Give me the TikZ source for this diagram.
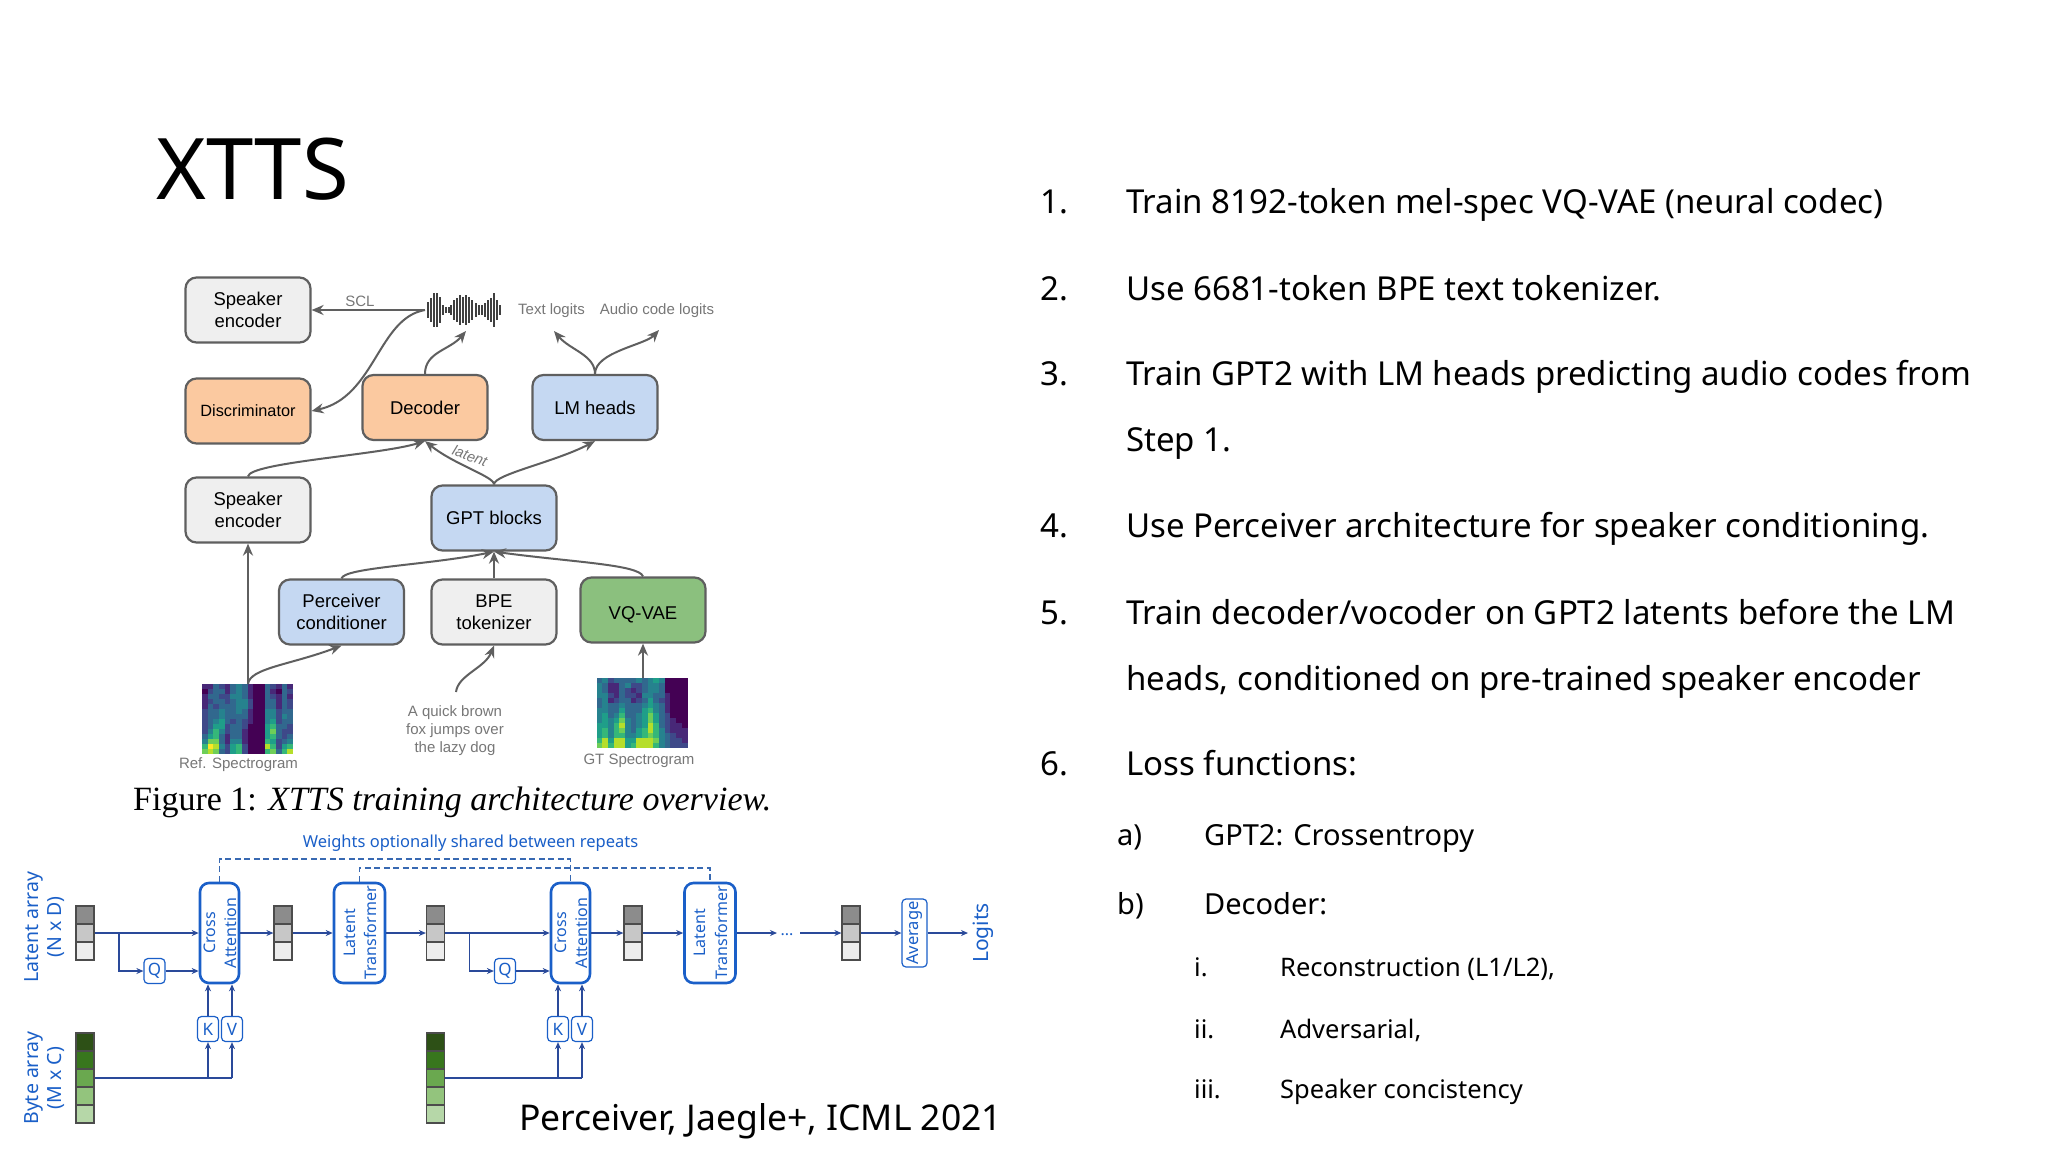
\documentclass[tikz,border=0pt]{standalone}
\usepackage{fontspec}
\setmainfont{Noto Sans}
\newfontfamily\arfont{Liberation Sans}
\newfontfamily\tifont{Liberation Serif}
\usetikzlibrary{arrows.meta,calc}
\definecolor{v0}{HTML}{440154}\definecolor{v1}{HTML}{482878}\definecolor{v2}{HTML}{3E4989}
\definecolor{v3}{HTML}{31688E}\definecolor{v4}{HTML}{26828E}\definecolor{v5}{HTML}{1F9E89}
\definecolor{v6}{HTML}{35B779}\definecolor{v7}{HTML}{6ECE58}\definecolor{v8}{HTML}{B5DE2B}\definecolor{v9}{HTML}{FDE725}
\definecolor{edge}{HTML}{5F5F5F}\definecolor{labc}{HTML}{777777}
\definecolor{pblue}{HTML}{1A5FC8}\definecolor{parrow}{HTML}{2A4A9A}
\definecolor{fgray}{HTML}{EFEFEF}\definecolor{forange}{HTML}{FBC9A0}\definecolor{fblue}{HTML}{C5D8F2}\definecolor{fgreen}{HTML}{8BC07E}
\definecolor{b1}{HTML}{2D5016}\definecolor{b2}{HTML}{38761D}\definecolor{b3}{HTML}{6AA84F}\definecolor{b4}{HTML}{93C47D}\definecolor{b5}{HTML}{B6D7A8}
\newcommand\fs[2]{\fontsize{#1}{#2}\selectfont}
\newcommand\rot[1]{\rotatebox{90}{\begin{tabular}{@{}c@{}}#1\end{tabular}}}
\newcommand\rotb[1]{\makebox[0pt]{\hspace*{4pt}\rot{#1}}}
\newcommand\spec[3]{%
  \begin{scope}[shift={#1}]
  \foreach \row [count=\j from 0] in {#3}{%
    \foreach \v [count=\i from 0] in \row {%
      \fill[fill=v\v] ({\i*#2/16},{\j*5.0}) rectangle ({(\i+1)*#2/16+0.4},{(\j+1)*5.0+0.4});
    }}
  \end{scope}}
\tikzset{
  box/.style={draw=edge,line width=2.2pt,rounded corners=11pt,minimum width=125pt,minimum height=65pt,inner sep=0pt,align=center,font=\arfont\fs{18.5}{22}},
  gbox/.style={box,fill=fgray},
  obox/.style={box,fill=forange},
  bbox/.style={box,fill=fblue},
  lab/.style={text=labc,font=\arfont\fs{15}{18},align=center,inner sep=0pt},
  arr/.style={draw=edge,line width=2pt,-{Stealth[length=12pt,width=10pt]}},
  big/.style={pblue,draw=pblue,line width=2.6pt,rounded corners=9pt,inner sep=0pt,align=center,font=\fs{16}{21.5}},
  small/.style={pblue,draw=pblue,line width=1.2pt,fill=white,rounded corners=4pt,inner sep=0pt,minimum width=21pt,minimum height=25pt,font=\fs{17}{20}},
  parr/.style={draw=parrow,line width=1.5pt,-{Stealth[length=7pt,width=6pt]}},
  pline/.style={draw=parrow,line width=1.5pt},
  shdash/.style={draw=pblue!70!gray,line width=1.1pt,dash pattern=on 6pt off 3.5pt},
  cell/.style={draw=black!70,line width=1.2pt,minimum width=18pt,minimum height=18pt,inner sep=0pt},
  plab/.style={pblue,inner sep=0pt,align=center,font=\fs{19.5}{23}},
  item/.style={anchor=base west,inner sep=0pt,font=\fs{33}{40}},
  sub/.style={anchor=base west,inner sep=0pt,font=\fs{29}{36}},
  subsub/.style={anchor=base west,inner sep=0pt,font=\fs{25.5}{32}},
}
\newcommand\latent[2]{%
  \node[cell,fill=black!45] (#1t) at (#2,915) {};
  \node[cell,fill=black!22] (#1) at (#2,933) {};
  \node[cell,fill=black!7] (#1b) at (#2,951) {};}
\newcommand\bytearr[2]{%
  \node[cell,fill=b1] (#1a) at (#2,1042) {};
  \node[cell,fill=b2] (#1c) at (#2,1060) {};
  \node[cell,fill=b3] (#1) at (#2,1078) {};
  \node[cell,fill=b4] (#1d) at (#2,1096) {};
  \node[cell,fill=b5] (#1e) at (#2,1114) {};}
\begin{document}
\begin{tikzpicture}[x=1pt,y=-1pt]
\fill[white] (0,0) rectangle (2048,1152);
\useasboundingbox (0,0) rectangle (2048,1152);

\node[anchor=base west,inner sep=0pt,font=\fs{85}{90}] (title) at (156,199) {XTTS};

% --- XTTS diagram ---
\node[gbox] (spk1) at (248,310) {Speaker\\encoder};
\node[obox,font=\arfont\fs{16.3}{20}] (disc) at (248,411) {Discriminator};
\node[obox] (dec) at (425,407.5) {Decoder};
\node[bbox] (lm) at (595,407.5) {LM heads};
\node[gbox] (spk2) at (248,510) {Speaker\\encoder};
\node[bbox] (gpt) at (494,518) {GPT blocks};
\node[bbox] (perc) at (341.5,612) {Perceiver\\conditioner};
\node[gbox] (bpe) at (494,612) {BPE\\tokenizer};
\node[box,fill=fgreen] (vq) at (643,610) {\raisebox{-9pt}[0pt][0pt]{VQ-VAE}};

% waveform
\coordinate (wl) at (425,310);
\foreach \x/\h [count=\n] in {25/25,33/35,42/50,51/52,60/40,70/15,78/10,86/10,94/15,103/30,112/35,121/45,130/40,139/45,148/40,157/30,167/20,177/15,186/15,195/20,204/30,213/35,223/50,232/30,241/15}{
  \fill[black!75] ({420+\x/3-0.9},{310-\h/3}) rectangle ({420+\x/3+0.9},{310+\h/3});
}
\coordinate (wout) at (466,331);
\coordinate (tl) at (554,331);
\coordinate (al) at (659,330);
\node[lab] (tlt) at (551.5,311) {Text logits};
\node[lab] (alt) at (657,311) {Audio code logits};
\node[lab] (scl) at (360,301) {SCL};
\node[lab,rotate=-20,font=\arfont\itshape\fs{14.6}{18}] (lat) at (470,456) {latent};

\draw[arr] (wl) -- (spk1.east);
\draw[arr] (wl) .. controls (378,318) and (375,397) .. (disc.east);
\draw[arr] (dec.north) .. controls +(0,-22) and (450,350) .. (wout);
\draw[arr] (lm.north) .. controls +(0,-19) and (570,350) .. (tl);
\draw[arr] (lm.north) .. controls +(0,-22) and (645,345) .. (al);
\draw[arr] (spk2.north) .. controls +(2,-14) and (380,455) .. (dec.south);
\draw[arr] (gpt.north) .. controls +(0,-8) and (455,465) .. (dec.south);
\draw[arr] (gpt.north) .. controls +(0,-10) and (555,462) .. (lm.south);

% spectrograms
\spec{(202,684)}{91}{{1,1,3,2,1,3,4,3,1,0,0,3,2,1,3,1},{0,2,3,3,1,3,4,3,1,0,0,3,1,0,3,2},{1,3,3,2,2,4,4,3,1,0,0,3,2,1,3,1},{1,2,3,3,2,3,4,4,2,0,0,3,3,1,3,2},{1,3,2,3,3,3,4,4,2,0,0,3,3,1,3,2},{2,3,3,4,3,3,4,3,1,0,0,4,4,2,3,3},{2,3,3,4,3,3,3,3,1,0,0,4,4,2,4,3},{2,3,4,5,3,2,3,2,1,0,0,4,5,2,3,3},{2,3,5,5,2,3,3,2,0,0,0,5,6,3,3,2},{2,4,6,4,2,3,3,1,0,0,0,5,7,3,2,2},{3,5,6,3,1,3,3,1,0,0,0,5,6,3,2,3},{4,7,7,3,1,4,4,1,0,0,0,6,5,2,3,4},{6,9,8,4,2,5,6,2,0,0,0,8,6,2,5,6},{7,8,7,3,2,5,6,2,0,0,0,6,7,3,6,8}}
\spec{(596.5,678)}{91}{{3,4,2,3,3,3,3,4,3,4,5,4,0,0,0,0},{4,3,1,1,3,4,2,2,3,4,4,3,0,0,0,0},{4,3,1,1,3,2,1,2,3,4,4,3,0,0,0,0},{4,4,2,1,3,2,2,1,4,4,3,3,1,0,0,0},{3,4,1,2,3,3,1,2,3,5,3,2,1,0,0,0},{3,4,3,3,4,3,3,3,4,5,4,3,1,0,0,0},{4,4,3,3,5,3,3,3,5,6,4,3,1,0,0,0},{4,5,3,4,6,3,3,4,5,7,5,3,2,0,0,0},{4,5,4,5,7,4,3,4,5,7,5,3,2,1,0,0},{5,5,4,6,8,4,3,4,5,8,6,3,2,1,1,0},{5,6,4,6,7,4,3,5,6,8,6,4,2,1,1,1},{5,6,4,6,6,4,4,5,6,7,6,4,3,2,1,1},{6,8,5,8,8,5,5,8,8,8,7,4,3,2,2,1},{7,8,6,8,8,5,6,8,8,8,6,4,3,2,2,2}}
\coordinate (rs) at (248,684);
\coordinate (gs) at (643,678);
\node[lab] (rst) at (238.5,765) {Ref. Spectrogram};
\node[lab] (gst) at (639,761) {GT Spectrogram};
\node[lab,anchor=north] (txt) at (455,705.5) {A quick brown\\fox jumps over\\the lazy dog};
\coordinate (ts) at (456,692);

\draw[arr] (rs) -- (spk2.south);
\draw[arr] (rs) .. controls +(2,-16) and (290,665) .. (perc.south);
\draw[arr] (gs) -- (vq.south);
\draw[arr] (ts) .. controls +(2,-17) and (485,668) .. (bpe.south);
\draw[arr] (bpe.north) -- (gpt.south);
\draw[arr] (perc.north) .. controls +(3,-11) and (430,565) .. (gpt.south);
\draw[arr] (vq.north) .. controls +(-4,-12) and (570,562) .. (gpt.south);

\node[anchor=base west,inner sep=0pt,font=\tifont\fs{34}{36}] (cap) at (133,810) {Figure 1: \textit{XTTS training architecture overview.}};

% --- Perceiver diagram ---
\node[plab,font=\fs{16.5}{20}] (wt) at (470.5,843.5) {Weights optionally shared between repeats};
\latent{l1}{85}
\latent{l2}{283}
\latent{l3}{435.5}
\latent{l4}{633}
\latent{l5}{851}
\bytearr{by1}{85}
\bytearr{by2}{435.5}
\node[big,minimum width=39pt,minimum height=100pt] (ca1) at (219.5,933) {\rotb{Cross\\Attention}};
\node[big,minimum width=51pt,minimum height=100pt] (lt1) at (359.5,933) {\rotb{Latent\\Transformer}};
\node[big,minimum width=39pt,minimum height=100pt] (ca2) at (570.5,933) {\rotb{Cross\\Attention}};
\node[big,minimum width=51pt,minimum height=100pt] (lt2) at (710,933) {\rotb{Latent\\Transformer}};
\node[small,font=\fs{16.5}{20},minimum width=25pt,minimum height=68pt] (avg) at (914.5,933) {\rot{Average}};
\node[plab,font=\fs{21}{23}] (logits) at (984,933) {\rot{Logits}};
\node[plab] (la) at (45.5,927) {\rot{Latent array\\(N x D)}};
\node[plab] (ba) at (45.5,1078) {\rot{Byte array\\(M x C)}};
\node[small] (q1) at (154.5,971) {Q};
\node[small] (q2) at (505,971) {Q};
\node[small] (k1) at (208,1029) {K};
\node[small] (v1) at (232,1029) {V};
\node[small] (k2) at (558,1029) {K};
\node[small] (v2) at (582,1029) {V};

\draw[parr] (l1.east) -- (ca1.west);
\draw[parr] (ca1.east) -- (l2.west);
\draw[parr] (l2.east) -- (lt1.west);
\draw[parr] (lt1.east) -- (l3.west);
\draw[parr] (l3.east) -- (ca2.west);
\draw[parr] (ca2.east) -- (l4.west);
\draw[parr] (l4.east) -- (lt2.west);
\coordinate (d1) at (777,933);
\coordinate (d2) at (800,933);
\draw[parr] (lt2.east) -- (d1);
\node[pblue,inner sep=0pt,font=\bfseries\fs{16}{16}] (dots) at (787,935) {...};
\draw[parr] (d2) -- (l5.west);
\draw[parr] (l5.east) -- (avg.west);
\coordinate (le) at (968,933);
\draw[parr] (avg.east) -- (le);

\coordinate (j1) at (119,933);
\coordinate (j2) at (469.5,933);
\draw[parr] (j1) |- (q1.west);
\draw[parr] (j2) |- (q2.west);
\draw[parr] (q1.east) -- (ca1.west |- q1.east);
\draw[parr] (q2.east) -- (ca2.west |- q2.east);
\draw[parr] (k1.north) -- (ca1.south -| k1.north);
\draw[parr] (v1.north) -- (ca1.south -| v1.north);
\draw[parr] (k2.north) -- (ca2.south -| k2.north);
\draw[parr] (v2.north) -- (ca2.south -| v2.north);
\draw[pline] (by1.east) -- (v1 |- by1.east);
\draw[pline] (by2.east) -- (v2 |- by2.east);
\draw[parr] (k1 |- by1.east) -- (k1.south);
\draw[parr] (v1 |- by1.east) -- (v1.south);
\draw[parr] (k2 |- by2.east) -- (k2.south);
\draw[parr] (v2 |- by2.east) -- (v2.south);

\coordinate (dt1) at (219.5,859);
\coordinate (dt2) at (359.5,868);
\draw[shdash] (ca1.north) -- (dt1) -| (ca2.north);
\draw[shdash] (lt1.north) -- (dt2) -| (lt2.north);

\node[anchor=base west,inner sep=0pt,font=\fs{35.5}{40}] (pc) at (519,1130) {Perceiver, Jaegle+, ICML 2021};

% --- Right text ---
\node[item] (n1) at (1040,213) {1.};
\node[item] (t1) at (1126,213) {Train 8192-token mel-spec VQ-VAE (neural codec)};
\node[item] (n2) at (1040,300) {2.};
\node[item] (t2) at (1126,300) {Use 6681-token BPE text tokenizer.};
\node[item] (n3) at (1040,385.5) {3.};
\node[item] (t3) at (1126,385.5) {Train GPT2 with LM heads predicting audio codes from};
\node[item] (t3b) at (1126,451) {Step 1.};
\node[item] (n4) at (1040,537) {4.};
\node[item] (t4) at (1126,537) {Use Perceiver architecture for speaker conditioning.};
\node[item] (n5) at (1040,624) {5.};
\node[item] (t5) at (1126,624) {Train decoder/vocoder on GPT2 latents before the LM};
\node[item] (t5b) at (1126,690) {heads, conditioned on pre-trained speaker encoder};
\node[item] (n6) at (1040,775.5) {6.};
\node[item] (t6) at (1126,775.5) {Loss functions:};
\node[sub] (na) at (1117,845) {a)};
\node[sub] (ta) at (1204,845) {GPT2: Crossentropy};
\node[sub] (nb) at (1117,914) {b)};
\node[sub] (tb) at (1204,914) {Decoder:};
\node[subsub] (ni) at (1194,976) {i.};
\node[subsub] (ti) at (1280,976) {Reconstruction (L1/L2),};
\node[subsub] (nii) at (1194,1038) {ii.};
\node[subsub] (tii) at (1280,1038) {Adversarial,};
\node[subsub] (niii) at (1194,1098) {iii.};
\node[subsub] (tiii) at (1280,1098) {Speaker concistency};
\end{tikzpicture}
\end{document}
